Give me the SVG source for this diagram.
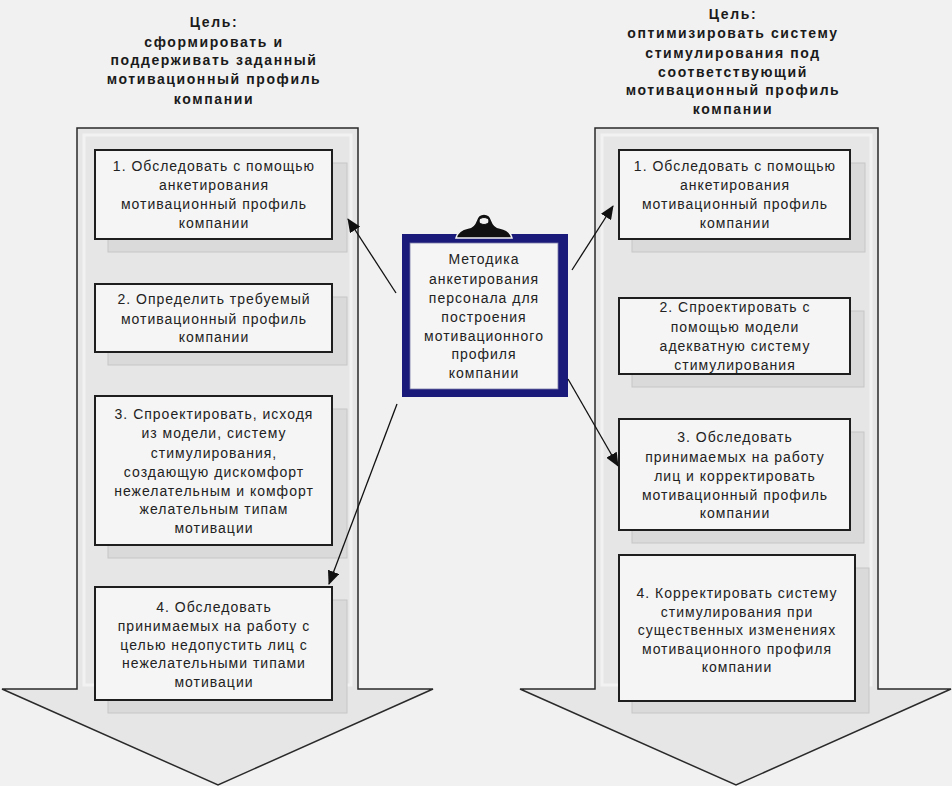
<svg xmlns="http://www.w3.org/2000/svg" width="952" height="786" viewBox="0 0 952 786">
<defs>
<style>
.bg{fill:#f1f1f1}
.col{fill:#e6e6e6;stroke:#2a2a2a;stroke-width:1.5}
.sh{fill:#dadada;stroke:#c6c6c6;stroke-width:1}
.box{fill:#f5f5f5;stroke:#1e1e1e;stroke-width:2}
.t{font-family:"Liberation Sans",Arial,sans-serif;font-size:14px;letter-spacing:1px;fill:#222;text-anchor:middle}
.h{font-family:"Liberation Sans",Arial,sans-serif;font-size:14px;font-weight:bold;letter-spacing:1.6px;fill:#1a1a1a;text-anchor:middle}
.c{stroke:#111;stroke-width:1.3;fill:none;marker-end:url(#ah)}
</style>
<marker id="ah" viewBox="0 0 14 12" refX="13" refY="6" markerWidth="14" markerHeight="12" markerUnits="userSpaceOnUse" orient="auto">
<path d="M0,0 L14,6 L0,12 z" fill="#111"/>
</marker>
</defs>
<rect class="bg" x="0" y="0" width="952" height="786"/>

<g id="left-column">
<polygon class="col" points="77,128 358,128 358,689 433,689 218,785 2,689 77,689"/>
<rect x="84" y="135" width="267" height="550" fill="none" stroke="#f2f2f2" stroke-width="3"/>
</g>
<g id="right-column">
<polygon class="col" points="595,128 878,128 878,689 951,689 736,785 520,689 595,689"/>
<rect x="602" y="135" width="269" height="550" fill="none" stroke="#f2f2f2" stroke-width="3"/>
</g>

<g id="left-title">
<text class="h" x="214" y="27">Цель:</text>
<text class="h" x="214" y="47">сформировать и</text>
<text class="h" x="214" y="65">поддерживать заданный</text>
<text class="h" x="214" y="84">мотивационный профиль</text>
<text class="h" x="214" y="104">компании</text>
</g>
<g id="right-title">
<text class="h" x="733" y="19">Цель:</text>
<text class="h" x="733" y="38">оптимизировать систему</text>
<text class="h" x="733" y="58">стимулирования под</text>
<text class="h" x="733" y="77">соответствующий</text>
<text class="h" x="733" y="95">мотивационный профиль</text>
<text class="h" x="733" y="114">компании</text>
</g>

<g id="L1">
<rect class="sh" x="108" y="163" width="239" height="89"/>
<rect class="box" x="95" y="150" width="237" height="89"/>
<text class="t" x="214" y="171">1. Обследовать с помощью</text>
<text class="t" x="214" y="190">анкетирования</text>
<text class="t" x="214" y="209">мотивационный профиль</text>
<text class="t" x="214" y="228">компании</text>
</g>
<g id="L2">
<rect class="sh" x="108" y="297" width="239" height="68"/>
<rect class="box" x="95" y="284" width="237" height="68"/>
<text class="t" x="214" y="304">2. Определить требуемый</text>
<text class="t" x="214" y="324">мотивационный профиль</text>
<text class="t" x="214" y="342">компании</text>
</g>
<g id="L3">
<rect class="sh" x="108" y="409" width="239" height="149"/>
<rect class="box" x="95" y="396" width="237" height="149"/>
<text class="t" x="214" y="419">3. Спроектировать, исходя</text>
<text class="t" x="214" y="438">из модели, систему</text>
<text class="t" x="214" y="458">стимулирования,</text>
<text class="t" x="214" y="477">создающую дискомфорт</text>
<text class="t" x="214" y="496">нежелательным и комфорт</text>
<text class="t" x="214" y="514">желательным типам</text>
<text class="t" x="214" y="533">мотивации</text>
</g>
<g id="L4">
<rect class="sh" x="108" y="600" width="239" height="113"/>
<rect class="box" x="95" y="587" width="237" height="113"/>
<text class="t" x="214" y="612">4. Обследовать</text>
<text class="t" x="214" y="631">принимаемых на работу с</text>
<text class="t" x="214" y="650">целью недопустить лиц с</text>
<text class="t" x="214" y="668">нежелательными типами</text>
<text class="t" x="214" y="687">мотивации</text>
</g>

<g id="R1">
<rect class="sh" x="632" y="163" width="233" height="89"/>
<rect class="box" x="619" y="150" width="231" height="89"/>
<text class="t" x="735" y="171">1. Обследовать с помощью</text>
<text class="t" x="735" y="190">анкетирования</text>
<text class="t" x="735" y="209">мотивационный профиль</text>
<text class="t" x="735" y="228">компании</text>
</g>
<g id="R2">
<rect class="sh" x="632" y="311" width="232" height="76"/>
<rect class="box" x="619" y="298" width="231" height="76"/>
<text class="t" x="735" y="312">2. Спроектировать с</text>
<text class="t" x="735" y="332">помощью модели</text>
<text class="t" x="735" y="351">адекватную систему</text>
<text class="t" x="735" y="370">стимулирования</text>
</g>
<g id="R3">
<rect class="sh" x="632" y="432" width="232" height="111"/>
<rect class="box" x="619" y="419" width="231" height="111"/>
<text class="t" x="735" y="442">3. Обследовать</text>
<text class="t" x="735" y="462">принимаемых на работу</text>
<text class="t" x="735" y="481">лиц и корректировать</text>
<text class="t" x="735" y="500">мотивационный профиль</text>
<text class="t" x="735" y="518">компании</text>
</g>
<g id="R4">
<rect class="sh" x="632" y="568" width="237" height="145"/>
<rect class="box" x="619" y="555" width="236" height="146"/>
<text class="t" x="737" y="598">4. Корректировать систему</text>
<text class="t" x="737" y="617">стимулирования при</text>
<text class="t" x="737" y="635">существенных изменениях</text>
<text class="t" x="737" y="654">мотивационного профиля</text>
<text class="t" x="737" y="672">компании</text>
</g>

<g id="center">
<rect x="402" y="234" width="166" height="163" fill="#1a1a7a"/>
<rect x="410" y="243" width="148" height="146" fill="#f5f5f5" stroke="#7a7aaa" stroke-width="0.8"/>
<path d="M456,238 Q458,230 468,228 Q474,227 476,221 Q478,214 484,214 Q490,214 492,221 Q494,227 500,228 Q510,230 512,238 Z" fill="#111" stroke="#f3f3f3" stroke-width="1.5"/>
<ellipse cx="484" cy="221" rx="5" ry="3.5" fill="#f3f3f3" stroke="#111" stroke-width="1"/>
<text class="t" x="484" y="264">Методика</text>
<text class="t" x="484" y="284">анкетирования</text>
<text class="t" x="484" y="303">персонала для</text>
<text class="t" x="484" y="322">построения</text>
<text class="t" x="484" y="341">мотивационного</text>
<text class="t" x="484" y="359">профиля</text>
<text class="t" x="484" y="378">компании</text>
</g>

<g id="connectors">
<line class="c" x1="396" y1="293" x2="348" y2="219"/>
<line class="c" x1="397" y1="404" x2="329" y2="584"/>
<line class="c" x1="572" y1="270" x2="613" y2="206"/>
<line class="c" x1="568" y1="379" x2="618" y2="466"/>
</g>
</svg>
